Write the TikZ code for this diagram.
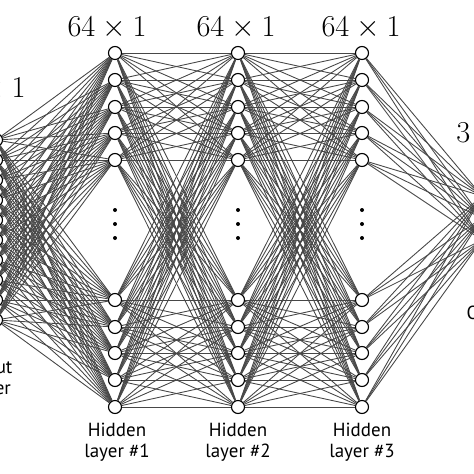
\documentclass[tikz,border=0pt]{standalone}
\usepackage{fontspec}
\newfontfamily\labelfont{PT Sans}

\begin{document}
\begin{tikzpicture}[
x=0.02cm, y=-0.02cm,
neuron/.style={
draw=black,
line width=0.65pt,
fill=white,
circle,
inner sep=0pt,
minimum size=0.26cm
},
link/.style={
draw=black!72,
line width=0.5pt
},
dim/.style={
inner sep=0pt,
font=\fontsize{16.5}{19}\selectfont
},
layerlabel/.style={
inner sep=0pt,
align=center,
anchor=north,
font=\labelfont\fontsize{10.8}{12}\selectfont
}
]

\useasboundingbox (0,0) rectangle (474,474);

% input layer
\foreach \i in {1,...,10}
\node[neuron] (I\i) at (-4,{120+20*\i}) {};

% hidden layers
\foreach \x [count=\l] in {115,238,362}
\foreach \y [count=\i] in {53,80,107,133,160,300,327,353,380,407}
\node[neuron] (H\l-\i) at (\x,\y) {};

% output layer
\foreach \y [count=\i] in {196,218,240}
\node[neuron] (O\i) at (482,\y) {};

% connections
\foreach \i in {1,...,10}
\foreach \j in {1,...,10}
\draw[link] (I\i) -- (H1-\j);

\foreach \i in {1,...,10}
\foreach \j in {1,...,10}
{
\draw[link] (H1-\i) -- (H2-\j);
\draw[link] (H2-\i) -- (H3-\j);
}

\foreach \i in {1,...,10}
\foreach \j in {1,2,3}
\draw[link] (H3-\i) -- (O\j);

% skipped neurons
\foreach \x in {115,238,362}
\foreach \y in {210,224,238}
\fill (\x,\y) circle (0.04cm);

% sizes
\node[dim, anchor=base east] (S0) at (26,97) {${}\times 1$};
\node[dim, anchor=base] (S1) at (107,36) {$64\times 1$};
\node[dim, anchor=base] (S2) at (236,36) {$64\times 1$};
\node[dim, anchor=base] (S3) at (361,36) {$64\times 1$};
\node[dim, anchor=base west] (S4) at (456,142) {$3\times 1$};

% layer names
\node[layerlabel] (N0) at (-9,360) {Input\\layer};
\node[layerlabel] (N1) at (117,423) {Hidden\\layer \#1};
\node[layerlabel] (N2) at (238,423) {Hidden\\layer \#2};
\node[layerlabel] (N3) at (362,423) {Hidden\\layer \#3};
\node[layerlabel] (N4) at (495,306) {Output\\layer};

\end{tikzpicture}
\end{document}
